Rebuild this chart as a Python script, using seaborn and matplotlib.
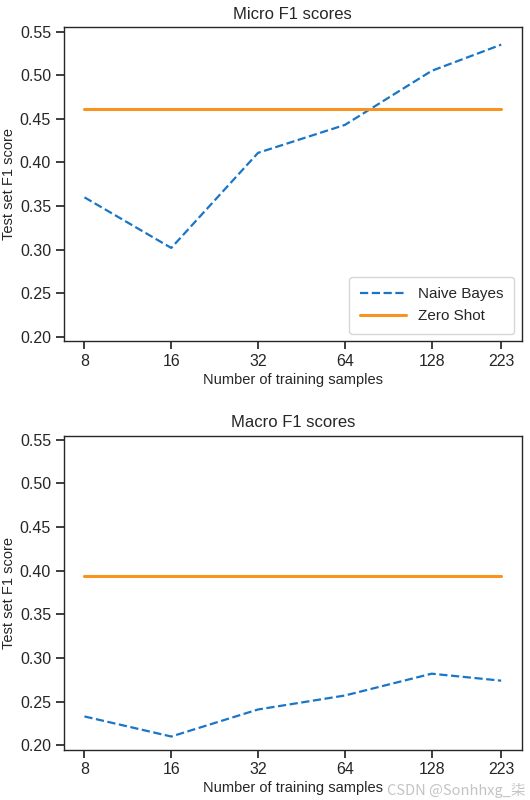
import matplotlib.pyplot as plt
import pandas as pd
import seaborn as sns

# Data
train_samples = [8, 16, 32, 64, 128, 223]
micro_nb = [0.360, 0.302, 0.411, 0.443, 0.505, 0.535]
macro_nb = [0.233, 0.210, 0.241, 0.257, 0.282, 0.274]
micro_zero_shot = 0.461
macro_zero_shot = 0.394

sns.set_theme(style="ticks")
plt.rcParams["font.family"] = ["Liberation Sans", "DejaVu Sans"]

fig, axes = plt.subplots(2, 1, figsize=(5.3, 8), dpi=100, sharey=True)

panels = [
    (axes[0], micro_nb, micro_zero_shot, "Micro F1 scores"),
    (axes[1], macro_nb, macro_zero_shot, "Macro F1 scores"),
]

for ax, nb_scores, zs_score, title in panels:
    df = pd.DataFrame({
        "samples": train_samples,
        "Naive Bayes": nb_scores,
        "Zero Shot": [zs_score] * len(train_samples),
    })
    sns.lineplot(data=df, x="samples", y="Naive Bayes", ax=ax,
                 color="#1a75c8", linestyle="--", linewidth=1.6, label="Naive Bayes")
    sns.lineplot(data=df, x="samples", y="Zero Shot", ax=ax,
                 color="#f7931e", linestyle="-", linewidth=2.2, label="Zero Shot")
    ax.set_xscale("log")
    ax.set_xticks(train_samples)
    ax.set_xticklabels([str(s) for s in train_samples])
    ax.minorticks_off()
    ax.set_ylim(0.195, 0.555)
    ax.set_yticks([0.20, 0.25, 0.30, 0.35, 0.40, 0.45, 0.50, 0.55])
    ax.tick_params(labelleft=True, labelsize=11.5, pad=3)
    ax.set_title(title, fontsize=12)
    ax.set_xlabel("Number of training samples", fontsize=10.5, labelpad=3)
    ax.set_ylabel("Test set F1 score", fontsize=10.5, labelpad=3)
    for side in ax.spines.values():
        side.set_linewidth(1.0)

axes[0].legend(loc="lower right", fontsize=11, handlelength=3, borderpad=0.7)
axes[1].get_legend().remove()

fig.subplots_adjust(left=0.12, right=0.985, top=0.966, bottom=0.063, hspace=0.3)

# CSDN watermark in the lower right corner
fig.text(0.86, 0.012, "CSDN @Sonhhxg_柒", fontsize=10.5, color="#bdbdbd", alpha=0.9,
         ha="center", va="center", family=["Noto Sans CJK SC", "DejaVu Sans"])

fig.savefig("out.png", dpi=100)
